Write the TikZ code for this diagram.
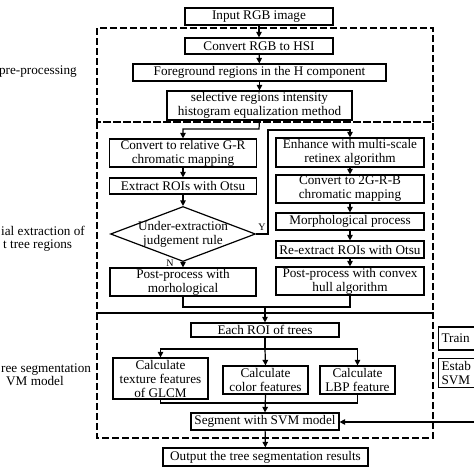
\documentclass[tikz,border=0pt]{standalone}
\usepackage{fontspec}
\setmainfont{Liberation Serif}
\usetikzlibrary{arrows.meta,shapes.geometric}
\tikzset{
	stepbox/.style={draw, line width=1.2pt, inner sep=1pt, align=center, font=\fontsize{13.2}{14}\selectfont},
	judgebox/.style={draw, diamond, line width=1.2pt, inner sep=0pt},
	flow/.style={line width=1.2pt, -{Triangle[length=5.5pt,width=5.5pt]}},
	link/.style={line width=1.2pt},
	stage/.style={line width=1.1pt, dash pattern=on 7pt off 3pt},
	stagelabel/.style={font=\fontsize{13.2}{13}\selectfont, inner sep=0pt, align=left, anchor=west},
	branch/.style={font=\fontsize{10}{10}\selectfont, inner sep=0pt},
}

\begin{document}
\begin{tikzpicture}[x=1pt, y=-1pt]
			%%%%% START %%%%%
			\useasboundingbox[fill=white] (0, 0) rectangle (474, 474);
			
			% stage frames
			\draw[stage] (97, 28) rectangle (433, 122);
			\draw[stage] (97, 122) rectangle (433, 313);
			\draw[stage] (97, 313) rectangle (433, 438);
			
			\node[stagelabel, anchor=east] (lpre) at (77, 72) {pre-processing};
			\node[stagelabel] (lext) at (1, 238.5) {ial extraction of\\\hspace{2pt}t tree regions};
			\node[stagelabel] (lseg) at (1, 375) {ree segmentation\\\hspace{5pt}VM model};
			
			% pre-processing
			\node[stepbox, minimum width=148pt, minimum height=17pt] (input) at (259, 16.5) {Input RGB image};
			\node[stepbox, minimum width=148pt, minimum height=16pt] (hsi) at (259, 46) {Convert RGB to HSI};
			\node[stepbox, minimum width=253pt, minimum height=17pt] (fg) at (259.5, 72.5) {Foreground regions in the H component};
			\node[stepbox, minimum width=185pt, minimum height=29pt] (sel) at (259.5, 105.5) {selective regions intensity\\histogram equalization method};
			
			\draw[flow] (input) -- (hsi);
			\draw[flow] (hsi) -- (fg);
			\draw[flow] (fg) -- (sel);
			
			% initial extraction, left branch
			\node[stepbox, minimum width=147pt, minimum height=28pt] (gr) at (183, 153) {Convert to relative G-R\\chromatic mapping};
			\node[stepbox, minimum width=147pt, minimum height=16pt] (otsu) at (183, 186) {Extract ROIs with Otsu};
			\node[judgebox, minimum width=145pt, minimum height=55pt] (judge) at (183, 234) {};
			\node[stepbox, draw=none, inner sep=0pt] (judgetext) at (judge.center) {Under-extraction\\judgement rule};
			\node[stepbox, minimum width=146pt, minimum height=26pt] (morh) at (183, 282) {Post-process with\\morhological};
			
			\coordinate (selturn) at (259, 129);
			\draw[flow] (sel.south) -- (selturn) -| (gr.north);
			\draw[flow] (gr) -- (otsu);
			\draw[flow] (otsu) -- (judge.north);
			\draw[flow] (judge.south) -- (morh.north);
			\node[branch] (nlab) at (170, 263) {N};
			
			% initial extraction, right branch
			\node[stepbox, minimum width=148pt, minimum height=29pt] (msr) at (350, 152.5) {Enhance with multi-scale\\retinex algorithm};
			\node[stepbox, minimum width=148pt, minimum height=28pt] (gbr) at (350, 189) {Convert to 2G-R-B\\chromatic mapping};
			\node[stepbox, minimum width=148pt, minimum height=17pt] (morph) at (350, 221.5) {Morphological process};
			\node[stepbox, minimum width=148pt, minimum height=17pt] (reotsu) at (350, 249.5) {Re-extract ROIs with Otsu};
			\node[stepbox, minimum width=148pt, minimum height=28pt] (convex) at (350, 281) {Post-process with convex\\hull algorithm};
			
			\coordinate (yturn) at (268, 130);
			\draw[flow] (judge.east) -| (yturn) -| (msr.north);
			\node[branch] (ylab) at (262, 227) {Y};
			\draw[flow] (msr) -- (gbr);
			\draw[flow] (gbr) -- (morph);
			\draw[flow] (morph) -- (reotsu);
			\draw[flow] (reotsu) -- (convex);
			
			% tree segmentation
			\node[stepbox, minimum width=148pt, minimum height=14pt] (roi) at (265, 330) {Each ROI of trees};
			\node[stepbox, minimum width=95pt, minimum height=41pt] (glcm) at (160.5, 378.5) {Calculate\\texture features\\of GLCM};
			\node[stepbox, minimum width=85pt, minimum height=28pt] (color) at (265.5, 380) {Calculate\\color features};
			\node[stepbox, minimum width=75pt, minimum height=28pt] (lbp) at (357.5, 380) {Calculate\\LBP feature};
			\node[stepbox, minimum width=148pt, minimum height=17pt] (seg) at (265, 421.5) {Segment with SVM model};
			\node[stepbox, minimum width=205pt, minimum height=18pt] (out) at (265.5, 457) {Output the tree segmentation results};
			
			\coordinate (merge) at (265, 307);
			\draw[link] (morh.south) |- (merge) -| (convex.south);
			\draw[flow] (merge) -- (roi.north);
			
			\coordinate (split) at (265, 349);
			\draw[link] (roi.south) -- (split);
			\draw[flow] (split) -| (glcm.north);
			\draw[flow] (split) -| (lbp.north);
			\draw[flow] (split) -- (color.north);
			
			\coordinate (join) at (265, 403);
			\draw[link] (glcm.south) |- (join) -| (lbp.south);
			\draw[flow] (color.south) -- (seg.north);
			\draw[flow] (seg) -- (out);
			
			% training side
			\node[stepbox, anchor=west, align=left, text width=70pt, minimum height=23pt, inner sep=3pt] (train) at (438, 338.5) {Train};
			\node[stepbox, anchor=west, align=left, text width=70pt, minimum height=28pt, inner sep=3pt] (svm) at (438, 373) {Estab\\SVM};
			\coordinate (svmin) at (480, 422);
			\draw[flow] (svmin) -- (seg.east |- svmin);
			
			%%%%% END %%%%%
\end{tikzpicture}
\end{document}
